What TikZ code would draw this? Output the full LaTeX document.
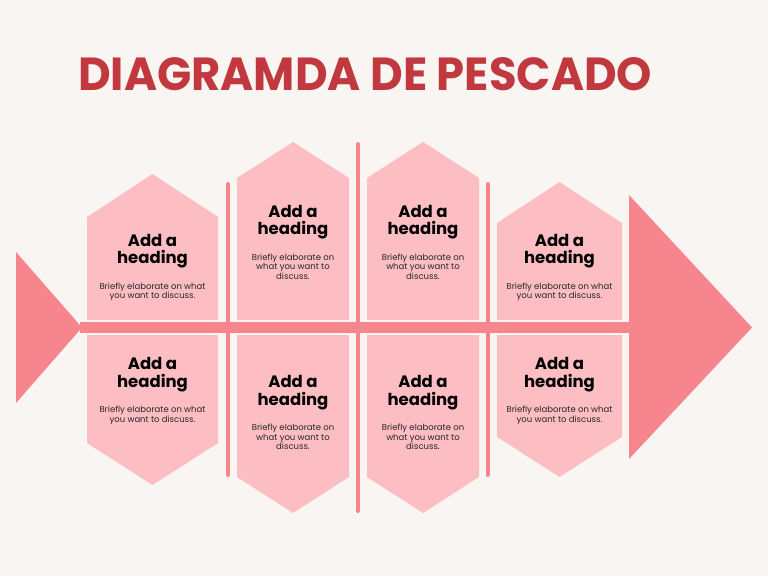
\documentclass[tikz,border=0pt]{standalone}
\usepackage{fontspec}
\setmainfont{Poppins}
\usetikzlibrary{positioning}
\definecolor{bgcol}{HTML}{F9F5F2}
\definecolor{fishcol}{HTML}{F7858D}
\definecolor{panelcol}{HTML}{FDBEC3}
\definecolor{titlecol}{HTML}{C1393F}

\tikzset{
  fish/.style={fill=fishcol},
  rib/.style={draw=fishcol, line width=4pt, line cap=round},
  panel/.style={fill=panelcol},
  headtxt/.style={font=\bfseries\fontsize{16.5}{17.5}\selectfont, align=center, inner sep=0pt, anchor=north},
  bodytxt/.style={font=\fontsize{8.5}{9.5}\selectfont, align=center, inner sep=0pt, text=black!85},
}

\begin{document}
\begin{tikzpicture}[x=1pt, y=-1pt]
\fill[bgcol] (0,0) rectangle (768,576);
\useasboundingbox (0,0) rectangle (768,576);

% title
\node[anchor=north west, inner sep=0pt, text=titlecol] (title) at (78,57)
  {\resizebox{574pt}{33pt}{\bfseries DIAGRAMDA DE PESCADO}};

% tail, spine, head
\fill[fish] (16,252) -- (82,327.5) -- (16,403) -- cycle;
\fill[fish] (629,195) -- (752,327.5) -- (629,459) -- cycle;
\coordinate (tail) at (80,327.5);
\coordinate (head) at (632,327.5);
\draw[fishcol, line width=10.5pt] (tail) -- (head);

% ribs
\draw[rib] (228,184) -- (228,475);
\draw[rib] (357.5,144) -- (357.5,511);
\draw[rib] (487.5,184) -- (487.5,475);

% upper panels
\fill[panel] (87,320) -- (87,217) -- (152.5,174) -- (218,217) -- (218,320) -- cycle;
\fill[panel] (237,320) -- (237,178) -- (293,142) -- (349,178) -- (349,320) -- cycle;
\fill[panel] (367,320) -- (367,178) -- (423,142) -- (479,178) -- (479,320) -- cycle;
\fill[panel] (497,320) -- (497,223) -- (559.5,182) -- (622,223) -- (622,320) -- cycle;

% lower panels
\fill[panel] (87,335) -- (218,335) -- (218,443) -- (152.5,485) -- (87,443) -- cycle;
\fill[panel] (237,335) -- (349,335) -- (349,477) -- (293,513) -- (237,477) -- cycle;
\fill[panel] (367,335) -- (479,335) -- (479,477) -- (423,513) -- (367,477) -- cycle;
\fill[panel] (497,335) -- (622,335) -- (622,437) -- (559.5,477) -- (497,437) -- cycle;

% texts
\node[headtxt] (h1) at (152.5,234) {Add a\\heading};
\node[bodytxt, below=14pt of h1] (b1) {Briefly elaborate on what\\you want to discuss.};
\node[headtxt] (h2) at (293,205) {Add a\\heading};
\node[bodytxt, below=14pt of h2] (b2) {Briefly elaborate on\\what you want to\\discuss.};
\node[headtxt] (h3) at (423,205) {Add a\\heading};
\node[bodytxt, below=14pt of h3] (b3) {Briefly elaborate on\\what you want to\\discuss.};
\node[headtxt] (h4) at (559.5,234) {Add a\\heading};
\node[bodytxt, below=14pt of h4] (b4) {Briefly elaborate on what\\you want to discuss.};

\node[headtxt] (h5) at (152.5,357.5) {Add a\\heading};
\node[bodytxt, below=14pt of h5] (b5) {Briefly elaborate on what\\you want to discuss.};
\node[headtxt] (h6) at (293,375.5) {Add a\\heading};
\node[bodytxt, below=14pt of h6] (b6) {Briefly elaborate on\\what you want to\\discuss.};
\node[headtxt] (h7) at (423,375.5) {Add a\\heading};
\node[bodytxt, below=14pt of h7] (b7) {Briefly elaborate on\\what you want to\\discuss.};
\node[headtxt] (h8) at (559.5,357.5) {Add a\\heading};
\node[bodytxt, below=14pt of h8] (b8) {Briefly elaborate on what\\you want to discuss.};
\end{tikzpicture}
\end{document}
